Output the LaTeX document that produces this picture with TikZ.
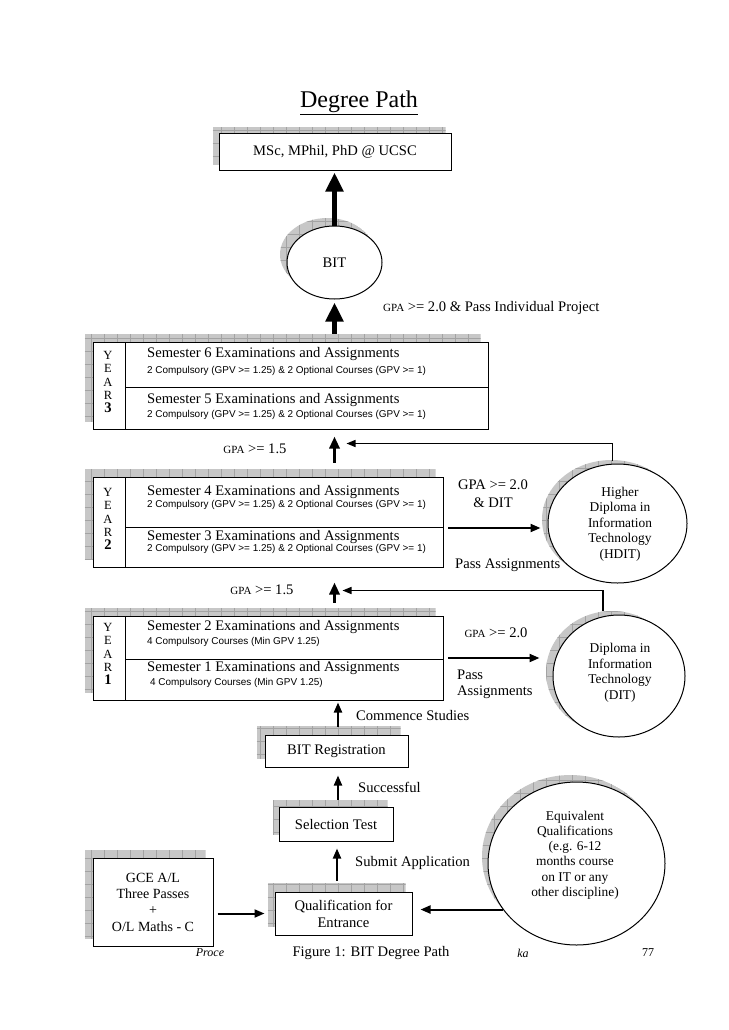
\documentclass[tikz,border=0pt]{standalone}
\usepackage{fontspec}
\setmainfont{Liberation Serif}
\newfontfamily\arialf{Liberation Sans}
\usetikzlibrary{arrows.meta,calc,backgrounds,shapes.geometric}
\pgfdeclarelayer{paper}
\pgfsetlayers{paper,background,main}
\definecolor{shd}{gray}{0.78}
\definecolor{shdl}{gray}{0.64}
\newcommand{\smgpa}{{\fontsize{11}{12}\selectfont GPA}}
\newcommand{\rectshadow}[3]{%
  \begin{scope}[on background layer]
    \begin{scope}
      \clip ($(#1.south west)+(#2,#3)$) rectangle ($(#1.north east)+(#2,#3)$);
      \fill[shd] ($(#1.south west)+(#2,#3)$) rectangle ($(#1.north east)+(#2,#3)$);
      \draw[shdl,line width=0.6pt] ($(#1.south west)+(#2,#3)$) grid[step=13pt] ($(#1.north east)+(#2,#3)$);
    \end{scope}
  \end{scope}}
\newcommand{\ellshadow}[5]{%
  \begin{scope}[on background layer]
    \begin{scope}
      \clip ($(#1.center)+(#4,#5)$) ellipse [x radius=#2pt, y radius=#3pt];
      \fill[shd] ($(#1.center)+(#4,#5)$) ellipse [x radius=#2pt, y radius=#3pt];
      \draw[shdl,line width=0.6pt] ($(#1.center)+(#4-#2,#5-#3)$) grid[step=13pt] ($(#1.center)+(#4+#2,#5+#3)$);
    \end{scope}
  \end{scope}}
\begin{document}
\begin{tikzpicture}[x=1pt,y=-1pt,
  box/.style={draw,line width=1pt,fill=white,inner sep=0pt,align=center,font=\fontsize{14.6}{17}\selectfont},
  ell/.style={ellipse,draw,line width=1pt,fill=white,inner sep=0pt},
  lbl/.style={inner sep=0pt,font=\fontsize{14.6}{17}\selectfont},
  ar/.style={inner sep=0pt,anchor=west,font=\arialf\fontsize{9.95}{11}\selectfont},
  yr/.style={inner sep=0pt,align=center,font=\fontsize{12.5}{13.4}\selectfont},
  etxt/.style={inner sep=0pt,align=center,font=\fontsize{13.4}{15.5}\selectfont},
  foot/.style={inner sep=0pt,font=\fontsize{12}{14}\selectfont},
  bigarrow/.style={line width=5pt,-{Triangle[width=17pt,length=19pt]}},
  medarrow/.style={line width=3pt,-{Triangle[width=10pt,length=12pt]}},
  smallarrow/.style={line width=2pt,-{Triangle[width=8pt,length=10pt]}},
  fbline/.style={line width=1.4pt,-{Triangle[width=7pt,length=9pt]}},
  divline/.style={line width=1pt}]
\useasboundingbox (0,0) rectangle (728,1030);
\begin{pgfonlayer}{paper}
\fill[white] (0,0) rectangle (728,1030);
\end{pgfonlayer}

% title
\node[lbl,font=\fontsize{24}{28}\selectfont] (title) at (359,103) {\underline{Degree Path}};

% top boxes
\node[box,minimum width=232pt,minimum height=36pt] (msc) at (335,152) {MSc, MPhil, PhD @ UCSC};
\rectshadow{msc}{-6}{-6}
\node[ell,minimum width=95pt,minimum height=73pt,font=\fontsize{14.6}{17}\selectfont] (bit) at (334.5,262.5) {BIT};
\ellshadow{bit}{47.5}{36.5}{-7}{-8}

% year boxes
\node[box,minimum width=395pt,minimum height=87pt] (y3) at (290.5,385.5) {};
\rectshadow{y3}{-8}{-8}
\node[box,minimum width=350pt,minimum height=90pt] (y2) at (268,522) {};
\rectshadow{y2}{-8}{-8}
\node[box,minimum width=350pt,minimum height=84pt] (y1) at (268,658) {};
\rectshadow{y1}{-8}{-8}

\draw[divline] (125,342) -- (125,429) (125,387) -- (488,387);
\draw[divline] (125,477) -- (125,567) (125,527) -- (443,527);
\draw[divline] (125,616) -- (125,700) (125,659) -- (443,659);
\coordinate (y2m) at (443,527);
\coordinate (y1m) at (443,659);

\node[yr] (yl3) at (108,382) {Y\\E\\A\\R\\\textbf{\fontsize{14.6}{13.4}\selectfont 3}};
\node[yr] (yl2) at (108,519) {Y\\E\\A\\R\\\textbf{\fontsize{14.6}{13.4}\selectfont 2}};
\node[yr] (yl1) at (108,654) {Y\\E\\A\\R\\\textbf{\fontsize{14.6}{13.4}\selectfont 1}};

\node[lbl,anchor=west] (s6) at (147,354) {Semester 6 Examinations and Assignments};
\node[ar] (c6) at (147,371) {2 Compulsory (GPV >= 1.25) \& 2 Optional Courses (GPV >= 1)};
\node[lbl,anchor=west] (s5) at (147,400) {Semester 5 Examinations and Assignments};
\node[ar] (c5) at (147,415) {2 Compulsory (GPV >= 1.25) \& 2 Optional Courses (GPV >= 1)};
\node[lbl,anchor=west] (s4) at (147,492) {Semester 4 Examinations and Assignments};
\node[ar] (c4) at (147,505) {2 Compulsory (GPV >= 1.25) \& 2 Optional Courses (GPV >= 1)};
\node[lbl,anchor=west] (s3) at (147,537) {Semester 3 Examinations and Assignments};
\node[ar] (c3) at (147,549) {2 Compulsory (GPV >= 1.25) \& 2 Optional Courses (GPV >= 1)};
\node[lbl,anchor=west] (s2) at (147,627) {Semester 2 Examinations and Assignments};
\node[ar] (c2) at (147,642) {4 Compulsory Courses (Min GPV 1.25)};
\node[lbl,anchor=west] (s1) at (147,668) {Semester 1 Examinations and Assignments};
\node[ar] (c1) at (150,683) {4 Compulsory Courses (Min GPV 1.25)};

% ellipses on the right
\node[ell,minimum width=139pt,minimum height=119pt] (hdit) at (617.5,523.5) {};
\ellshadow{hdit}{69.5}{59.5}{-6}{-4}
\node[etxt] (hditt) at (620,524) {Higher\\Diploma in\\Information\\Technology\\(HDIT)};
\node[ell,minimum width=132pt,minimum height=122pt] (dit) at (619,676) {};
\ellshadow{dit}{66}{61}{-7}{-4}
\node[etxt] (ditt) at (620,673) {Diploma in\\Information\\Technology\\(DIT)};
\node[ell,minimum width=177pt,minimum height=163pt] (eq) at (576.5,863.5) {};
\ellshadow{eq}{88.5}{81.5}{-6}{-7}
\node[etxt,font=\fontsize{13.4}{15.2}\selectfont] (eqt) at (575,855) {Equivalent\\Qualifications\\(e.g. 6-12\\months course\\on IT or any\\other discipline)};

% lower boxes
\node[box,minimum width=143pt,minimum height=32pt] (breg) at (336.5,751) {BIT Registration};
\rectshadow{breg}{-8}{-9}
\node[box,minimum width=114pt,minimum height=34pt] (sel) at (336,824) {Selection Test};
\rectshadow{sel}{-6}{-7}
\node[box,minimum width=120pt,minimum height=88pt,font=\fontsize{14}{16.3}\selectfont] (gce) at (153,902) {GCE A/L\\Three Passes\\+\\O/L Maths - C};
\rectshadow{gce}{-8}{-8}
\node[box,minimum width=137pt,minimum height=43pt] (qual) at (343.5,913.5) {Qualification for\\Entrance};
\rectshadow{qual}{-7}{-9}

% labels
\node[lbl,anchor=west] (lproj) at (383,308) {\smgpa{} >= 2.0 \& Pass Individual Project};
\node[lbl] (lg15a) at (255,449) {\smgpa{} >= 1.5};
\node[lbl,align=center,font=\fontsize{14.6}{18}\selectfont] (lg20h) at (493,494) {GPA >= 2.0\\\& DIT};
\node[lbl,anchor=west] (lpah) at (455,565) {Pass Assignments};
\node[lbl] (lg15b) at (262,590) {\smgpa{} >= 1.5};
\node[lbl] (lg20d) at (496,633) {\smgpa{} >= 2.0};
\node[lbl,anchor=west,align=left,font=\fontsize{14.6}{16}\selectfont] (lpad) at (457,684) {Pass\\Assignments};
\node[lbl,anchor=west] (lcomm) at (356,715) {Commence Studies};
\node[lbl,anchor=west] (lsucc) at (358,787) {Successful};
\node[lbl,anchor=west] (lsub) at (355,863) {Submit Application};

% footer
\node[foot,font=\fontsize{12}{14}\selectfont\itshape] (fproce) at (210,953) {Proce};
\node[lbl] (fcap) at (371,953) {Figure 1: BIT Degree Path};
\node[foot,font=\fontsize{12}{14}\selectfont\itshape] (fka) at (523,953) {ka};
\node[foot] (fpg) at (648,953) {77};

% connectors
\draw[bigarrow] (bit.north) -- ($(bit.north |- msc.south)+(0,2)$);
\draw[bigarrow] ($(bit.south |- y3.north)+(0,-8)$) -- ($(bit.south)+(0,3)$);
\draw[medarrow] ($(bit.south |- y2.north)+(0,-14)$) -- ($(bit.south |- y3.south)+(0,7)$);
\draw[medarrow] ($(bit.south |- y1.north)+(0,-13)$) -- ($(bit.south |- y2.south)+(0,15)$);
\draw[smallarrow] ($(breg.north)+(1.5,-8)$) -- ($(breg.north |- y1.south)+(1.5,2)$);
\draw[smallarrow] ($(sel.north)+(2,-7)$) -- ($(sel.north |- breg.south)+(2,8)$);
\draw[smallarrow] ($(qual.north)+(-6.5,-11)$) -- ($(sel.south)+(1,7)$);

\draw[fbline] ($(hdit.north)+(-5,-3)$) |- ($(bit.south |- y3.south)+(12,14)$);
\draw[fbline] ($(dit.north)+(-16,-4)$) |- ($(bit.south |- y2.south)+(8,23)$);

\draw[smallarrow] ($(y2m)+(5,1)$) -- ($(hdit.west |- y2m)+(-7,1)$);
\draw[smallarrow] ($(y1m)+(5,-1)$) -- ($(dit.west |- y1m)+(-13,-1)$);

\draw[smallarrow] ($(gce.east |- qual.west)+(4,0)$) -- ($(qual.west)+(-10,0)$);
\draw[smallarrow] (eq.212) -- ($(qual.east |- eq.212)+(8,0)$);
\end{tikzpicture}
\end{document}
